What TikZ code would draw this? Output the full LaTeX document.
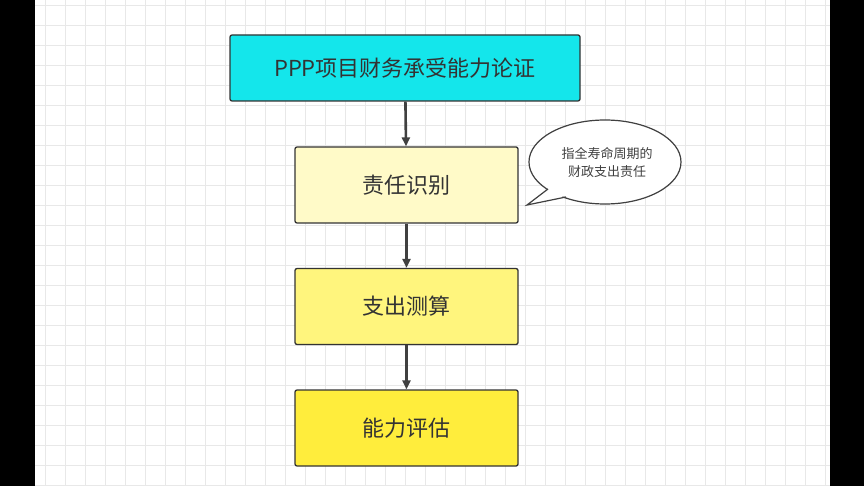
\documentclass[tikz,border=0pt]{standalone}
\usepackage{fontspec}
\setmainfont{Noto Sans CJK SC}
\usetikzlibrary{arrows.meta}
\definecolor{cy}{RGB}{20,230,235}
\definecolor{y1}{RGB}{255,250,200}
\definecolor{y2}{RGB}{255,245,125}
\definecolor{y3}{RGB}{255,237,60}
\definecolor{gridc}{RGB}{232,232,232}
\begin{document}
\begin{tikzpicture}[x=1pt,y=-1pt,
  box/.style={draw=black!80,line width=1.3pt,rounded corners=2pt,minimum width=223pt,minimum height=76pt,font=\fontsize{22}{26}\selectfont,text=black!80},
  arr/.style={-{Triangle[length=9pt,width=8pt]},line width=2.6pt,draw=black!75}]
\useasboundingbox (0,0) rectangle (864,486);
\fill[black] (0,0) rectangle (864,486);
\fill[white] (35,0) rectangle (830,486);
\foreach \x in {45,65,...,825} \draw[gridc,line width=0.6pt] (\x,0) -- (\x,486);
\foreach \y in {5,25,...,485} \draw[gridc,line width=0.6pt] (35,\y) -- (830,\y);
\node[box,fill=cy,minimum width=350pt,minimum height=66pt] (t) at (405,68) {PPP项目财务承受能力论证};
\node[box,fill=y1] (a) at (406.5,185) {责任识别};
\node[box,fill=y2] (b) at (406.5,306.5) {支出测算};
\node[box,fill=y3] (c) at (406.5,428) {能力评估};
\draw[arr] (t) -- (a);
\draw[arr] (a) -- (b);
\draw[arr] (b) -- (c);
\coordinate (tip) at (527,205);
\fill[white] (tip) -- (548,188) -- (566,196) -- cycle;
\draw[black!75,line width=1.2pt,fill=white] (605,162) ellipse [x radius=76,y radius=42];
\fill[white] (tip) -- (549,188) -- (565,196) -- cycle;
\draw[black!75,line width=1.2pt] (548,189) -- (tip) -- (566,197);
\node[font=\fontsize{13}{18}\selectfont,text=black!75,align=center] (n) at (607,162) {指全寿命周期的\\财政支出责任};
\end{tikzpicture}
\end{document}
